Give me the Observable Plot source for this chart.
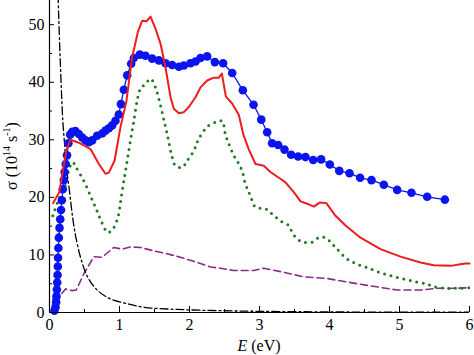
<!DOCTYPE html>
<html><head><meta charset="utf-8">
<script src="https://cdn.jsdelivr.net/npm/d3@7"></script>
<script src="https://cdn.jsdelivr.net/npm/@observablehq/plot@0.6"></script>
<style>html,body{margin:0;padding:0;background:#fff;} #chart{width:474px;height:355px;}</style>
</head><body><div id="chart"></div>
<script>
// Blue (dots + line)
const blueE = [0.07,0.085,0.095,0.1,0.105,0.11,0.115,0.119,0.122,0.127,0.133,0.143,0.153,0.165,0.176,0.19,0.204,0.216,0.232,0.25,0.27,0.295,0.325,0.371,0.419,0.467,0.514,0.562,0.61,0.68,0.752,0.8,0.848,0.895,0.943,0.99,1.02,1.062,1.11,1.167,1.205,1.29,1.371,1.467,1.562,1.657,1.752,1.848,1.919,2.014,2.086,2.157,2.252,2.362,2.48,2.61,2.762,2.915,3.025,3.11,3.18,3.267,3.357,3.452,3.552,3.657,3.767,3.88,4.005,4.14,4.286,4.437,4.6,4.776,4.967,5.171,5.395,5.648];
const blueS = [0.3,0.9,1.8,2.8,4.0,5.2,6.5,8.0,9.5,11.2,13.0,14.7,16.2,17.8,19.5,21.4,23.0,24.4,25.8,27.3,29.4,30.9,31.4,31.5,31.0,30.4,29.9,29.6,29.9,30.7,31.1,31.6,32.0,32.5,33.3,34.4,36.2,38.7,41.2,43.2,44.2,44.8,44.6,44.1,43.8,43.3,43.0,42.7,42.9,43.3,43.6,44.2,44.5,43.5,43.3,41.6,38.6,36.1,33.5,31.3,29.4,29.1,28.3,27.4,27.1,27.0,26.5,26.6,25.7,24.6,24.2,23.4,23.0,22.2,21.3,20.8,20.1,19.6];
// Red solid
const redE = [0.05,0.14,0.19,0.245,0.3,0.42,0.586,0.705,0.8,0.848,0.93,1.014,1.1,1.18,1.262,1.324,1.386,1.443,1.514,1.586,1.657,1.729,1.776,1.848,1.919,1.99,2.086,2.157,2.252,2.348,2.419,2.462,2.52,2.61,2.705,2.772,2.848,2.943,3.061,3.157,3.276,3.371,3.49,3.586,3.681,3.776,3.86,3.955,4.086,4.229,4.443,4.729,5.014,5.3,5.49,5.73,5.87,5.94,6.0];
const redS = [19.0,20.9,24.6,28.3,30.0,29.5,28.4,25.8,24.1,24.3,26.4,32.2,36.8,44.3,48.7,50.7,50.6,51.4,49.3,46.7,42.6,37.4,35.4,34.6,34.8,35.7,37.4,39.1,40.3,40.8,40.8,41.5,37.5,36.3,34.3,30.8,28.3,25.8,25.5,24.4,23.4,22.6,20.9,19.3,18.9,18.4,19.1,19.0,16.8,15.1,13.0,11.0,9.7,8.7,8.2,8.1,8.4,8.5,8.5];
// Green dotted
const greenE = [0.047,0.143,0.214,0.29,0.333,0.381,0.5,0.595,0.667,0.738,0.833,0.905,0.976,1.024,1.071,1.11,1.157,1.205,1.252,1.3,1.371,1.443,1.514,1.562,1.624,1.681,1.752,1.8,1.895,1.967,2.062,2.133,2.276,2.419,2.467,2.514,2.562,2.633,2.705,2.752,2.8,2.848,2.895,2.943,3.086,3.18,3.3,3.419,3.467,3.538,3.633,3.752,3.848,3.943,4.038,4.133,4.252,4.395,4.538,4.705,4.871,5.062,5.252,5.395,5.49,5.657,5.824,5.99];
const greenS = [16.8,20.0,21.7,25.3,26.1,25.2,22.6,20.0,18.0,15.9,13.9,14.5,16.5,20.0,23.5,26.4,29.9,33.3,36.8,38.9,39.7,40.6,39.1,37.1,34.0,31.0,27.0,25.5,25.2,26.4,28.1,30.2,32.5,33.2,33.3,30.9,29.3,27.3,25.8,24.6,22.3,20.9,19.4,18.3,18.0,17.1,15.9,15.1,13.9,12.8,12.2,12.2,13.0,13.0,11.9,10.7,9.3,8.4,7.8,7.0,6.4,5.8,5.3,4.9,4.5,4.2,4.2,4.3];
// Purple dashed
const purpleE = [0.047,0.14,0.229,0.324,0.381,0.49,0.633,0.752,0.919,1.038,1.157,1.3,1.49,1.681,1.871,2.11,2.3,2.443,2.633,2.919,3.06,3.3,3.633,3.967,4.443,4.967,5.3,5.54,5.78,5.99];
const purpleS = [2.3,2.8,4.1,3.8,3.9,6.7,9.7,9.6,11.3,11.0,11.4,11.3,10.7,10.2,9.6,8.7,7.9,7.7,7.3,7.3,7.7,7.1,6.2,5.9,4.9,3.9,3.9,4.2,4.2,4.3];
// Black dash-dot
const blackE = [0.115,0.13,0.157,0.19,0.214,0.24,0.286,0.333,0.381,0.452,0.548,0.69,0.881,1.119,1.357,1.7,2.0,2.5,3.0,4.0,5.0,6.0];
const blackS = [58,52,42.6,33.3,29.5,25.5,21.0,16.3,12.8,9.2,6.1,3.8,2.3,1.5,0.9,0.6,0.45,0.3,0.2,0.1,0.06,0.04];
// Ticks
const xTicks = [0,1,2,3,4,5,6];
const xMinor = [0.5,1.5,2.5,3.5,4.5,5.5];
const yTicks = [0,10,20,30,40,50];
const yMinor = [5,15,25,35,45];

const FONT = "Liberation Serif";
const zip = (xs, ys) => xs.map((x, i) => ({E: x, s: ys[i]}));
const blue = zip(blueE, blueS), red = zip(redE, redS), green = zip(greenE, greenS),
      purple = zip(purpleE, purpleS), black = zip(blackE, blackS);

const chart = Plot.plot({
  width: 474, height: 355,
  marginLeft: 49, marginRight: 5, marginTop: 0, marginBottom: 43,
  style: {fontFamily: FONT, fontSize: "16px", background: "#fff", color: "#000"},
  x: {domain: [0, 6]},
  y: {domain: [0, 54.2]},
  marks: [
    Plot.lineY(purple, {x: "E", y: "s", stroke: "#8a2a8c", strokeWidth: 1.6, strokeDasharray: "7,4"}),
    Plot.lineY(green, {x: "E", y: "s", stroke: "#1f7a1f", strokeWidth: 3, strokeDasharray: "0,6.6", strokeLinecap: "round", curve: "catmull-rom"}),
    Plot.lineY(black, {x: "E", y: "s", stroke: "#000", strokeWidth: 1.3, strokeDasharray: "8,3,2,3", curve: "catmull-rom", clip: true}),
    Plot.lineY(blue, {x: "E", y: "s", stroke: "#0a14ee", strokeWidth: 1.3}),
    Plot.dot(blue, {x: "E", y: "s", r: 4.3, fill: "#0a14ee", stroke: "none"}),
    Plot.lineY(red, {x: "E", y: "s", stroke: "#ee1c1c", strokeWidth: 2}),
    Plot.ruleX([0], {stroke: "#000", strokeWidth: 1.2}),
    Plot.ruleY([0], {stroke: "#000", strokeWidth: 1.2}),
    Plot.axisX(xTicks, {tickSize: -6, fill: "none", label: null}),
    Plot.axisX(xMinor, {tickSize: -3, fill: "none", label: null}),
    Plot.axisX(xTicks, {tickSize: 0, tickPadding: 6, label: null, fontSize: 16}),
    Plot.axisY(yTicks, {tickSize: -5, fill: "none", label: null}),
    Plot.axisY(yMinor, {tickSize: -3, fill: "none", label: null}),
    Plot.axisY(yTicks, {tickSize: 0, tickPadding: 5, label: null, fontSize: 16})
  ]
});

const svg = d3.select(chart);
svg.style("overflow", "visible");
const xl = svg.append("text")
  .attr("x", 259).attr("y", 351).attr("text-anchor", "middle")
  .attr("font-size", 16).attr("fill", "#000");
xl.append("tspan").attr("font-style", "italic").text("E");
xl.append("tspan").text(" (eV)");

const yl = svg.append("text")
  .attr("transform", "translate(17,156) rotate(-90)").attr("text-anchor", "middle")
  .attr("font-size", 16).attr("fill", "#000");
yl.append("tspan").text("σ (10");
yl.append("tspan").attr("font-size", 10).attr("dy", "-7").text("14");
yl.append("tspan").attr("dy", "7").text(" s");
yl.append("tspan").attr("font-size", 10).attr("dy", "-7").text("-1");
yl.append("tspan").attr("dy", "7").text(")");

svg.selectAll("text").attr("font-family", FONT);

document.getElementById("chart").appendChild(chart);
</script>
</body></html>
